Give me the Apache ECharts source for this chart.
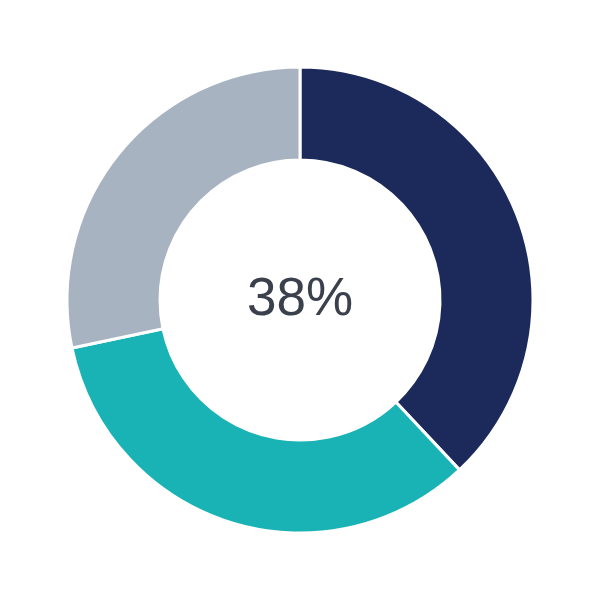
<!DOCTYPE html>
<html><head><meta charset="utf-8">
<script src="https://cdn.jsdelivr.net/npm/echarts@6/dist/echarts.min.js"></script>
<style>html,body{margin:0;padding:0;background:#fff}#c{width:600px;height:600px}</style>
</head><body><div id="c"></div>
<script>
const categories = ['A', 'B', 'C'];
const values = [38, 33.7, 28.3];
const colors = ['#1b2a5a', '#1ab3b5', '#a8b3c2'];
const centerLabel = '38%';

const chart = echarts.init(document.getElementById('c'));
chart.setOption({
  animation: false,
  graphic: [{
    type: 'text', left: 'center', top: 'middle',
    style: { text: centerLabel, font: '53px "Liberation Sans", Arial, sans-serif', fill: '#3a404c' }
  }],
  series: [{
    type: 'pie',
    center: ['50%', '50%'],
    radius: [140, 233],
    startAngle: 90,
    clockwise: true,
    label: { show: false },
    labelLine: { show: false },
    itemStyle: { borderColor: '#fff', borderWidth: 3 },
    data: categories.map((c, i) => ({ name: c, value: values[i], itemStyle: { color: colors[i] } }))
  }]
});
</script></body></html>
